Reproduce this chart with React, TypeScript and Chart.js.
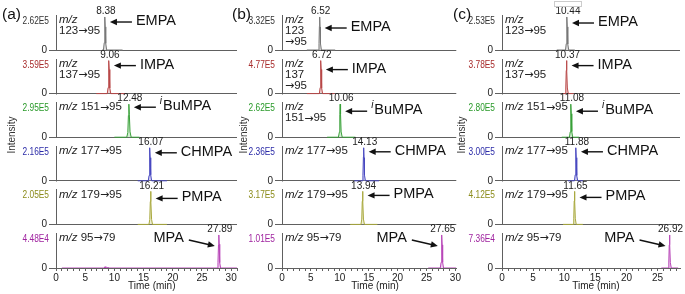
import React, { useEffect, useRef } from 'react';
import { Chart, registerables } from 'chart.js';

Chart.register(...registerables);

// ---------------- DATA ----------------
const COMPOUNDS = ['EMPA', 'IMPA', 'iBuMPA', 'CHMPA', 'PMPA', 'MPA'];
const PANEL_TAGS = ['(a)', '(b)', '(c)'];
const Y_TITLE = 'Intensity';
const X_TITLE = 'Time (min)';

const MZ_A = [['m/z', '123→95'], ['m/z', '137→95'], ['m/z 151→95'], ['m/z 177→95'], ['m/z 179→95'], ['m/z 95→79']];
const MZ_B = [['m/z', '123', '→95'], ['m/z', '137', '→95'], ['m/z', '151→95'], ['m/z 177→95'], ['m/z 179→95'], ['m/z 95→79']];
const MZ_C = [['m/z', '123→95'], ['m/z', '137→95'], ['m/z 151→95'], ['m/z 177→95'], ['m/z 179→95'], ['m/z 95→79']];

const MAX_A = ['2.62E5', '3.59E5', '2.95E5', '2.16E5', '2.05E5', '4.48E4'];
const MAX_B = ['3.32E5', '4.77E5', '2.62E5', '2.36E5', '3.17E5', '1.01E5'];
const MAX_C = ['2.53E5', '3.78E5', '2.80E5', '3.00E5', '4.12E5', '7.36E4'];

const RT_A = [8.38, 9.06, 12.48, 16.07, 16.21, 27.89];
const RT_B = [6.52, 6.72, 10.06, 14.13, 13.94, 27.65];
const RT_C = [10.44, 10.37, 11.08, 11.88, 11.65, 26.92];

// retention time (min) of each trace point, per row (EMPA .. MPA)
const TIME_A = [
  [7.9, 8.12, 8.26, 8.33, 8.38, 8.44, 8.52, 8.68, 11.4],
  [6.9, 8.78, 8.92, 9.0, 9.06, 9.12, 9.21, 9.38, 11.9],
  [10.0, 12.12, 12.3, 12.4, 12.48, 12.56, 12.68, 12.88, 14.3],
  [14.0, 15.8, 15.94, 16.02, 16.07, 16.13, 16.22, 16.38, 19.0],
  [14.0, 15.92, 16.06, 16.15, 16.21, 16.27, 16.37, 16.53, 19.0],
  [1.0, 8.25, 8.4, 8.55, 8.75, 8.88, 9.0, 27.6, 27.74, 27.83, 27.89, 27.95, 28.04, 28.2, 31.0],
];
// relative intensity (fraction of the row maximum)
const INT_A = [
  [0, 0, 0.22, 0.74, 1, 0.7, 0.2, 0, 0],
  [0, 0, 0.18, 0.7, 1, 0.73, 0.17, 0, 0],
  [0, 0, 0.14, 0.66, 1, 0.69, 0.16, 0, 0],
  [0, 0, 0.16, 0.72, 1, 0.7, 0.18, 0, 0],
  [0, 0, 0.15, 0.69, 1, 0.71, 0.15, 0, 0],
  [0, 0, 0.04, 0, 0, 0.03, 0, 0, 0.17, 0.7, 1, 0.72, 0.16, 0, 0],
];

const TIME_B = [
  [4.3, 6.26, 6.4, 6.47, 6.52, 6.58, 6.66, 6.82, 9.2],
  [4.3, 6.46, 6.6, 6.67, 6.72, 6.78, 6.86, 7.02, 9.1],
  [7.8, 9.76, 9.92, 10.0, 10.06, 10.13, 10.23, 10.42, 12.7],
  [12.5, 13.86, 14.0, 14.08, 14.13, 14.19, 14.27, 14.43, 16.8],
  [11.8, 13.66, 13.8, 13.88, 13.94, 14.0, 14.09, 14.26, 16.5],
  [25.3, 27.38, 27.52, 27.6, 27.65, 27.71, 27.79, 27.95, 30.15],
];
const INT_B = [
  [0, 0, 0.2, 0.72, 1, 0.7, 0.19, 0, 0],
  [0, 0, 0.18, 0.71, 1, 0.73, 0.17, 0, 0],
  [0, 0, 0.15, 0.68, 1, 0.7, 0.16, 0, 0],
  [0, 0, 0.17, 0.72, 1, 0.7, 0.17, 0, 0],
  [0, 0, 0.16, 0.7, 1, 0.71, 0.16, 0, 0],
  [0, 0, 0.17, 0.71, 1, 0.7, 0.17, 0, 0],
];

const TIME_C = [
  [8.8, 10.2, 10.32, 10.39, 10.44, 10.49, 10.57, 10.72, 11.7],
  [9.8, 10.13, 10.25, 10.32, 10.37, 10.42, 10.5, 10.65, 11.5],
  [9.6, 10.84, 10.96, 11.03, 11.08, 11.13, 11.21, 11.36, 12.4],
  [10.6, 11.64, 11.76, 11.83, 11.88, 11.93, 12.01, 12.16, 13.0],
  [9.8, 11.41, 11.53, 11.6, 11.65, 11.7, 11.78, 11.93, 13.0],
  [25.6, 26.68, 26.8, 26.87, 26.92, 26.97, 27.05, 27.2, 28.3],
];
const INT_C = [
  [0, 0, 0.19, 0.73, 1, 0.7, 0.18, 0, 0],
  [0, 0, 0.17, 0.7, 1, 0.72, 0.17, 0, 0],
  [0, 0, 0.16, 0.7, 1, 0.71, 0.17, 0, 0],
  [0, 0, 0.18, 0.72, 1, 0.7, 0.16, 0, 0],
  [0, 0, 0.17, 0.71, 1, 0.72, 0.17, 0, 0],
  [0, 0, 0.18, 0.7, 1, 0.71, 0.16, 0, 0],
];

const X_MAX = [31, 30.15, 28.6];

// ---------------- STYLE ----------------
const FONT = '"Liberation Sans", Arial, sans-serif';
const ARROW_FONT = '"DejaVu Sans", sans-serif';
const AXIS = '#606060';
const LINE_COLORS = ['#777777', '#b84848', '#38a038', '#4848c0', '#a8a83c', '#b848b8'];
const FILL_COLORS = ['rgba(170,170,170,0.4)', 'rgba(220,140,140,0.4)', 'rgba(140,210,140,0.4)', 'rgba(150,150,225,0.4)', 'rgba(210,210,140,0.4)', 'rgba(220,140,220,0.4)'];
const LABEL_COLORS = ['#333333', '#a82c2c', '#2a9a2a', '#2c2ca8', '#8c8c1c', '#a024a0'];

const TOP = 1.06; // top of each row axis (relative units)
const GAP = 0.26; // blank space below each row baseline
const LBL = 0.88; // where the max label sits
const TRANSPARENT = 'rgba(0,0,0,0)';

const PANELS = [
  { tag: PANEL_TAGS[0], left: 0, width: 240, yWidth: 56, padRight: 3, xMax: X_MAX[0], rt: RT_A, max: MAX_A, mz: MZ_A, times: TIME_A, ints: INT_A, dy: [28, 28, 30, 28, 26], tagX: 2, titleX: 12, timeAt: 16.4, box: null },
  { tag: PANEL_TAGS[1], left: 226, width: 236, yWidth: 56, padRight: 4, xMax: X_MAX[1], rt: RT_B, max: MAX_B, mz: MZ_B, times: TIME_B, ints: INT_B, dy: [22, 24, 26, 29, 29], tagX: 6, titleX: 18, timeAt: 16.1, box: null },
  { tag: PANEL_TAGS[2], left: 452, width: 233, yWidth: 50, padRight: 5, xMax: X_MAX[2], rt: RT_C, max: MAX_C, mz: MZ_C, times: TIME_C, ints: INT_C, dy: [27, 28, 26, 29, 27], tagX: 1, titleX: 10, timeAt: 15.1, box: [102, 1, 27, 5] },
];

function drawArrow(ctx: CanvasRenderingContext2D, x1: number, y1: number, x2: number, y2: number) {
  const ang = Math.atan2(y2 - y1, x2 - x1);
  const hl = 7, hw = 3.2;
  ctx.strokeStyle = '#111';
  ctx.fillStyle = '#111';
  ctx.lineWidth = 1.4;
  ctx.beginPath();
  ctx.moveTo(x1, y1);
  ctx.lineTo(x2 - Math.cos(ang) * hl * 0.8, y2 - Math.sin(ang) * hl * 0.8);
  ctx.stroke();
  ctx.beginPath();
  ctx.moveTo(x2, y2);
  ctx.lineTo(x2 - hl * Math.cos(ang) + hw * Math.sin(ang), y2 - hl * Math.sin(ang) - hw * Math.cos(ang));
  ctx.lineTo(x2 - hl * Math.cos(ang) - hw * Math.sin(ang), y2 - hl * Math.sin(ang) + hw * Math.cos(ang));
  ctx.closePath();
  ctx.fill();
}

// draws "m/z" in italics, the arrow glyph in a font that has a long arrow, the rest plain
function drawMz(ctx: CanvasRenderingContext2D, text: string, x: number, y: number) {
  ctx.fillStyle = '#222';
  ctx.textAlign = 'left';
  ctx.textBaseline = 'middle';
  const parts = text.split(/(m\/z|→)/).filter((s) => s.length > 0);
  let cx = x;
  for (const part of parts) {
    if (part === 'm/z') ctx.font = `italic 11.5px ${FONT}`;
    else if (part === '→') ctx.font = `11px ${ARROW_FONT}`;
    else ctx.font = `11.5px ${FONT}`;
    ctx.fillText(part, cx, part === '→' ? y + 0.5 : y);
    cx += ctx.measureText(part).width;
  }
}

function drawName(ctx: CanvasRenderingContext2D, name: string, x: number, y: number, align: 'left' | 'right') {
  ctx.fillStyle = '#111';
  ctx.textBaseline = 'middle';
  if (name === 'iBuMPA') {
    ctx.textAlign = 'left';
    ctx.font = `italic 10px ${FONT}`;
    ctx.fillText('i', x, y - 5);
    const w = ctx.measureText('i').width + 1;
    ctx.font = `14.5px ${FONT}`;
    ctx.fillText(name.slice(1), x + w, y);
  } else {
    ctx.textAlign = align;
    ctx.font = `14.5px ${FONT}`;
    ctx.fillText(name, x, y);
  }
}

function makePlugin(p: any) {
  return {
    id: 'annotations',
    afterDraw(chart: any) {
      const { ctx, chartArea: area } = chart;
      const xs = chart.scales.x;
      ctx.save();
      const axX = Math.round(area.left) + 0.5;
      for (let r = 0; r < 6; r++) {
        const ys = chart.scales['y' + r];
        const b = ys.getPixelForValue(0);
        const t = ys.getPixelForValue(TOP);
        ctx.strokeStyle = AXIS;
        ctx.lineWidth = 1;
        ctx.beginPath();
        ctx.moveTo(axX, Math.round(b) + 0.5);
        ctx.lineTo(axX, Math.round(t));
        ctx.stroke();

        // row maximum label (condensed, like the original axis font)
        ctx.save();
        ctx.translate(area.left - 7, ys.getPixelForValue(LBL));
        ctx.scale(0.76, 1);
        ctx.font = `11px ${FONT}`;
        ctx.fillStyle = LABEL_COLORS[r];
        ctx.textAlign = 'right';
        ctx.textBaseline = 'middle';
        ctx.fillText(p.max[r], 0, 0);
        ctx.restore();

        const px = xs.getPixelForValue(p.rt[r]);
        ctx.fillStyle = '#222';
        ctx.font = `10px ${FONT}`;
        ctx.textAlign = 'center';
        ctx.textBaseline = 'middle';
        ctx.fillText(p.rt[r].toFixed(2), px + 1, b - 38.5);

        p.mz[r].forEach((ln: string, i: number) => drawMz(ctx, ln, area.left + 3, b - 30 + i * 11));

        if (r < 5) {
          const ay = b - p.dy[r];
          drawArrow(ctx, px + 27, ay, px + 5, ay);
          drawName(ctx, COMPOUNDS[r], px + 31, ay - 1, 'left');
        } else {
          drawArrow(ctx, px - 30, b - 28, px - 4, b - 22);
          drawName(ctx, COMPOUNDS[r], px - 35, b - 30, 'right');
        }
      }
      // panel tag
      ctx.fillStyle = '#111';
      ctx.font = `15.5px ${FONT}`;
      ctx.textAlign = 'left';
      ctx.textBaseline = 'middle';
      ctx.fillText(p.tag, p.tagX, 15);
      // y title
      ctx.save();
      ctx.translate(p.titleX, 135);
      ctx.rotate(-Math.PI / 2);
      ctx.font = `10px ${FONT}`;
      ctx.fillStyle = '#333';
      ctx.textAlign = 'center';
      ctx.textBaseline = 'middle';
      ctx.fillText(Y_TITLE, 0, 0);
      ctx.restore();
      // x title
      ctx.font = `10px ${FONT}`;
      ctx.fillStyle = '#222';
      ctx.textAlign = 'center';
      ctx.textBaseline = 'middle';
      ctx.fillText(X_TITLE, xs.getPixelForValue(p.timeAt), 286);
      if (p.box) {
        ctx.strokeStyle = '#cccccc';
        ctx.lineWidth = 1;
        ctx.strokeRect(p.box[0] + 0.5, p.box[1] + 0.5, p.box[2], p.box[3]);
      }
      ctx.restore();
    },
  };
}

function Panel({ p }: { p: any }) {
  const ref = useRef<HTMLCanvasElement>(null);
  useEffect(() => {
    if (!ref.current) return;
    const scales: any = {
      x: {
        type: 'linear',
        position: 'bottom',
        bounds: 'data',
        min: 0,
        max: p.xMax,
        afterFit: (s: any) => { s.height = 26; },
        border: { color: AXIS, width: 1 },
        grid: { drawOnChartArea: false, drawTicks: true, tickLength: 3, tickColor: AXIS },
        ticks: {
          stepSize: 1,
          autoSkip: false,
          includeBounds: false,
          maxRotation: 0,
          minRotation: 0,
          padding: 1,
          color: '#222',
          font: { family: FONT, size: 10 },
          callback: (v: number) => (v % 5 === 0 ? String(v) : ''),
        },
      },
    };
    for (let r = 0; r < 6; r++) {
      const bottom = r === 5;
      scales['y' + r] = {
        type: 'linear',
        position: 'left',
        stack: 'rows',
        stackWeight: bottom ? TOP : TOP + GAP,
        weight: 6 - r,
        bounds: 'data',
        min: bottom ? 0 : -GAP,
        max: TOP,
        afterFit: (s: any) => { s.width = p.yWidth; },
        afterBuildTicks: (s: any) => { s.ticks = [{ value: 0 }, { value: LBL }]; },
        border: { display: false },
        grid: {
          drawOnChartArea: true,
          drawTicks: true,
          tickLength: 7,
          color: (c: any) => (c.tick && c.tick.value === 0 ? AXIS : TRANSPARENT),
          tickColor: (c: any) => (c.tick && c.tick.value === 0 ? AXIS : TRANSPARENT),
        },
        ticks: {
          padding: 2,
          autoSkip: false,
          font: { family: FONT, size: 10 },
          color: (c: any) => (c.tick && c.tick.value === 0 ? '#222' : TRANSPARENT),
          callback: (v: number) => (v === 0 ? '0' : p.max[r]),
        },
      };
    }
    const datasets = p.times.map((ts: number[], r: number) => ({
      data: ts.map((t: number, i: number) => ({ x: t, y: p.ints[r][i] })),
      xAxisID: 'x',
      yAxisID: 'y' + r,
      borderColor: LINE_COLORS[r],
      backgroundColor: FILL_COLORS[r],
      borderWidth: 1,
      pointRadius: 0,
      tension: 0,
      fill: 'origin',
    }));
    const chart = new Chart(ref.current, {
      type: 'line',
      data: { datasets },
      options: {
        animation: false,
        responsive: false,
        devicePixelRatio: 1,
        layout: { padding: { top: 15, left: 0, right: p.padRight, bottom: 0 } },
        plugins: { legend: { display: false }, tooltip: { enabled: false }, title: { display: false } },
        scales,
      },
      plugins: [makePlugin(p)],
    } as any);
    return () => chart.destroy();
  }, []);
  return (
    <canvas
      ref={ref}
      width={p.width}
      height={294}
      style={{ position: 'absolute', left: p.left, top: 0, width: p.width, height: 294 }}
    />
  );
}

export default function App() {
  return (
    <div style={{ position: 'absolute', left: 0, top: 0, width: 685, height: 294, background: '#ffffff', overflow: 'hidden' }}>
      {PANELS.map((p, i) => (
        <Panel key={i} p={p} />
      ))}
    </div>
  );
}
